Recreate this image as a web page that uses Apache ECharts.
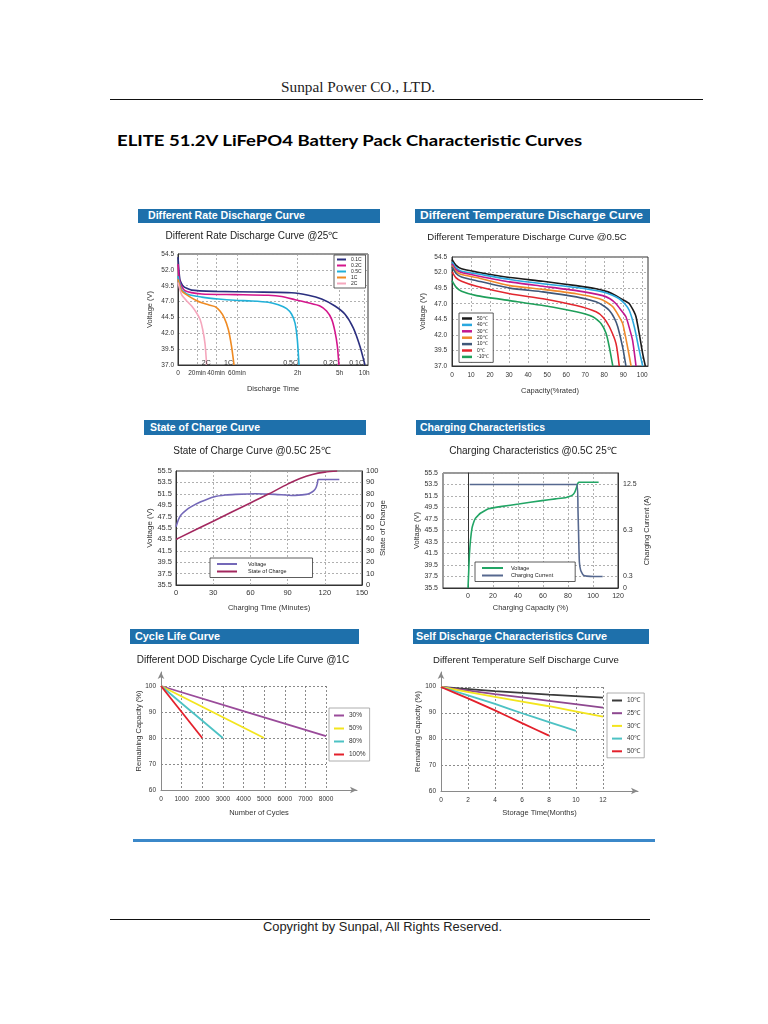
<!DOCTYPE html>
<html>
<head>
<meta charset="utf-8">
<title>ELITE 51.2V LiFePO4 Battery Pack Characteristic Curves</title>
<script src="https://cdn.jsdelivr.net/npm/echarts@6.0.0/dist/echarts.min.js"></script>
<style>
  html, body { margin:0; padding:0; background:#fff; }
  body { position:relative; width:768px; height:1024px; overflow:hidden; font-family:"Liberation Sans", Arial, sans-serif; }
  .t { position:absolute; white-space:nowrap; transform-origin:0 50%; }
  .rule { position:absolute; }
  .bar { position:absolute; background:#1e70ab; }
  .bar span { position:absolute; top:0; white-space:nowrap; color:#fff; font-weight:bold; font-size:10px; font-family:"Liberation Sans", Arial, sans-serif; transform-origin:0 50%; }
  .chart { position:absolute; }
</style>
</head>
<body>
<div class="t" data-fit="154" style="left:281px;top:80px;font-family:'Liberation Serif',serif;font-size:14px;line-height:16px;color:#222">Sunpal Power CO., LTD.</div>
<div class="rule" style="left:110px;top:99px;width:593px;height:1px;background:#111"></div>
<div class="t" data-fit="465" style="left:117px;top:130px;font-family:Lato,'Open Sans',sans-serif;font-weight:bold;font-size:16px;line-height:20px;color:#000">ELITE 51.2V LiFePO4 Battery Pack Characteristic Curves</div>

<div class="bar" style="left:138px;top:209px;width:242px;height:14px"><span data-fit="157" style="left:10px;line-height:14px">Different Rate Discharge Curve</span></div>
<div class="bar" style="left:415px;top:209px;width:235px;height:14px"><span data-fit="223" style="left:5px;line-height:14px">Different Temperature Discharge Curve</span></div>
<div class="bar" style="left:144px;top:420px;width:222px;height:15px"><span data-fit="110" style="left:6px;line-height:15px">State of Charge Curve</span></div>
<div class="bar" style="left:416px;top:420px;width:234px;height:15px"><span data-fit="125" style="left:4px;line-height:15px">Charging Characteristics</span></div>
<div class="bar" style="left:130px;top:629px;width:229px;height:15px"><span data-fit="85" style="left:5px;line-height:15px">Cycle Life Curve</span></div>
<div class="bar" style="left:413px;top:629px;width:236px;height:15px"><span data-fit="191" style="left:3px;line-height:15px">Self Discharge Characteristics Curve</span></div>

<div id="c1" class="chart" style="left:125px;top:225px;width:270px;height:175px"></div>
<div id="c2" class="chart" style="left:405px;top:225px;width:260px;height:175px"></div>
<div id="c3" class="chart" style="left:125px;top:437px;width:280px;height:180px"></div>
<div id="c4" class="chart" style="left:405px;top:437px;width:262px;height:180px"></div>
<div id="c5" class="chart" style="left:120px;top:646px;width:270px;height:180px"></div>
<div id="c6" class="chart" style="left:400px;top:646px;width:265px;height:180px"></div>

<div class="rule" style="left:133px;top:839px;width:522px;height:3px;background:#3b88c9"></div>
<div class="rule" style="left:110px;top:919px;width:540px;height:1px;background:#111"></div>
<div class="t" data-fit="239" style="left:263px;top:920px;font-family:'Liberation Sans',Arial,sans-serif;font-size:12px;line-height:14px;color:#222">Copyright by Sunpal, All Rights Reserved.</div>

<script>
// ---------------- DATA ----------------
// Chart 1: Different Rate Discharge Curve @25℃ (x = discharge-time position on the printed scale, y = V)
const c1Names = ['0.1C', '0.2C', '0.5C', '1C', '2C'];
const c1TickVals = [0, 10, 20, 31, 63, 85, 98];
const c1TickLabels = ['0', '20min', '40min', '60min', '2h', '5h', '10h'];
const c1_01C = [[0,54.0],[1,50.5],[2.8,49.4],[7.2,48.8],[20,48.6],[40,48.5],[59.8,48.4],[68.6,48.0],[75.6,47.4],[82.6,46.3],[87.9,45.0],[92.3,42.8],[95.8,39.9],[98.4,37.0]];
const c1_02C = [[0,52.9],[1,50.0],[3.7,48.7],[12.5,48.2],[30,48.1],[47.5,48.0],[54.6,47.8],[61.6,47.3],[68.6,46.8],[74.7,46.3],[78.2,45.5],[80.9,44.2],[82.6,42.3],[83.9,39.9],[84.7,37.0]];
const c1_05C = [[0,51.0],[1.9,48.9],[5.4,48.1],[12.5,47.7],[21.2,47.4],[30,47.2],[38.8,47.1],[47.5,46.9],[52.8,46.5],[57.2,45.9],[59.8,45.0],[61.6,43.6],[62.8,41.0],[63.7,37.0]];
const c1_1C  = [[0,50.5],[1.9,48.7],[5.4,47.9],[8.9,47.3],[12.5,46.8],[16,46.5],[19.5,46.2],[22.1,45.5],[24.4,44.4],[26.5,42.6],[28.2,39.9],[29.5,37.0]];
const c1_2C  = [[0,50.0],[1.9,48.1],[4.6,47.1],[7.2,46.3],[9.8,45.2],[11.6,44.2],[13,42.6],[14.2,40.4],[15.1,37.0]];

// Chart 2: Different Temperature Discharge Curve @0.5C (x = capacity %, y = V)
const c2Names = ['50℃', '40℃', '30℃', '20℃', '10℃', '0℃', '-10℃'];
const c2XTicks = [0, 10, 20, 30, 40, 50, 60, 70, 80, 90, 100];
const c2_50 = [[0,54.1],[2,53.2],[5,52.6],[12.9,52.1],[30.4,51.2],[47.8,50.6],[65.3,49.9],[75.7,49.4],[82,48.9],[86.2,48.3],[90,47.6],[93.2,47.0],[95.5,45.8],[96.7,44.9],[98.4,42.2],[100.2,39.0],[101.6,37.0]];
const c2_40 = [[0,53.7],[2,52.8],[5,52.2],[12.9,51.8],[30.4,50.9],[47.8,50.2],[65.3,49.6],[79.2,48.9],[84,48.4],[87.9,47.8],[91,46.9],[93.2,45.9],[95.8,43.3],[98.4,39.5],[100.2,37.0]];
const c2_30 = [[0,53.4],[2,52.5],[5,52.0],[12.9,51.5],[30.4,50.5],[47.8,49.8],[65.3,49.1],[79.2,48.3],[83,47.8],[86.2,47.0],[89,45.9],[91.4,44.9],[93.3,43.0],[94.9,41.1],[96.7,37.0]];
const c2_20 = [[0,53.1],[2,52.2],[5,51.7],[12.9,51.2],[30.4,49.9],[47.8,49.3],[65.3,48.6],[77.5,47.8],[81.5,47.2],[84.5,46.5],[87.5,45.1],[89.7,43.8],[92.3,40.0],[94.1,37.0]];
const c2_10 = [[0,52.9],[2,51.9],[5,51.3],[12.9,50.7],[30.4,49.5],[47.8,48.9],[65.3,48.1],[75.7,47.3],[80,46.6],[82.7,45.9],[85.3,44.7],[87.1,43.3],[89.7,40.0],[91.4,37.0]];
const c2_0  = [[0,52.1],[2,51.2],[5,50.6],[12.9,49.8],[30.4,48.6],[47.8,47.8],[65.3,46.7],[75.7,45.7],[79.5,44.8],[82.7,43.3],[86.2,40.6],[87.9,37.0]];
const c2_m10 = [[0,50.7],[2,49.7],[5,49.0],[12.9,48.3],[30.4,47.5],[47.8,46.7],[65.3,45.7],[74,44.9],[78.4,43.8],[81,42.2],[82.7,40.0],[84.5,37.0]];

// Chart 3: State of Charge Curve @0.5C 25℃ (x = minutes)
const c3Names = ['Voltage', 'State of Charge'];
const c3Voltage = [[0,45.7],[2,47.0],[4,47.8],[8,48.6],[12,49.2],[20,50.1],[31,51.0],[40,51.3],[48,51.4],[64,51.5],[80,51.4],[94,51.2],[105,51.4],[108,51.6],[111,52.0],[113,52.6],[114.2,53.5],[114.5,54.0],[131.7,54.0]];
const c3SOC = [[0,40],[30,56],[60,72],[75,80],[90,88.5],[100,93.5],[110,97],[120,99],[130,100]];

// Chart 4: Charging Characteristics @0.5C 25℃ (x = charging capacity %)
const c4Names = ['Voltage', 'Charging Current'];
const c4Voltage = [[0,35.5],[0.5,38.0],[1.1,41.2],[2,43.8],[3.2,45.9],[4.5,46.9],[5.9,47.6],[8,48.1],[9.9,48.5],[13,48.9],[16.5,49.3],[27.2,49.7],[40.5,50.1],[59.2,50.7],[70,51.0],[77.9,51.2],[81,51.4],[83.2,51.6],[85,52.0],[85.9,52.4],[87,53.1],[87.7,53.6],[88.5,53.9],[104.5,53.9]];
const c4CurrentA = [[1.3,12.5],[87.2,12.5],[88,9.0],[88.6,5.0],[89.1,2.2],[90,1.2],[91,0.8],[92.5,0.45],[95,0.35],[100.5,0.3],[107.7,0.3]];
const c4CurTickA = [0, 0.3, 6.3, 12.5];          // labels printed on the right axis
const c4CurTickRow = [35.5, 37.5, 45.5, 53.5];   // voltage rows they are printed against

// Chart 5: Different DOD Discharge Cycle Life Curve @1C
const c5Names = ['30%', '50%', '80%', '100%'];
const c5XTicks = [0, 1000, 2000, 3000, 4000, 5000, 6000, 7000, 8000];
const c5YTicks = [60, 70, 80, 90, 100];
const c5_30 = [[0,100],[4000,90.3],[8000,80.7]];
const c5_50 = [[0,100],[5000,80]];
const c5_80 = [[0,100],[3000,80]];
const c5_100 = [[0,100],[2000,80]];

// Chart 6: Different Temperature Self Discharge Curve (x = months)
const c6Names = ['10℃', '25℃', '30℃', '40℃', '50℃'];
const c6XTicks = [0, 2, 4, 6, 8, 10, 12];
const c6YTicks = [60, 70, 80, 90, 100];
const c6_10 = [[0,100],[4,98.4],[8,97.1],[12,95.9]];
const c6_25 = [[0,100],[4,97.3],[8,94.7],[12,92.1]];
const c6_30 = [[0,100],[4,96.2],[8,92.6],[12,88.6]];
const c6_40 = [[0,100],[2,96.8],[4,93.5],[6,89.9],[8,86.5],[10,83.1]];
const c6_50 = [[0,100],[2,95.6],[4,91.0],[6,86.1],[8,81.3]];

// ---------------- HELPERS ----------------
const F = '"Liberation Sans", Arial, sans-serif';
function gridAt(d, x0, y0, x1, y1, extra) {
  return Object.assign({ left: x0 - d.x, top: y0 - d.y, width: x1 - x0, height: y1 - y0, containLabel: false, outerBoundsMode: 'none' }, extra || {});
}
function framed(g) { return Object.assign(g, { show: true, borderColor: '#333', borderWidth: 1, backgroundColor: 'transparent' }); }
function dashed(c, w) { return { show: true, lineStyle: { color: c || '#9c9c9c', type: [2, 2], width: w || 0.8 } }; }
function lbl(size, extra) { return Object.assign({ fontFamily: F, fontSize: size, color: '#333' }, extra || {}); }
function nameStyle(size) { return { fontFamily: F, fontSize: size, color: '#333' }; }
function axLine(c) { return { show: true, lineStyle: { color: c || '#333', width: 1 } }; }
function line(name, data, color, extra) {
  return Object.assign({ type: 'line', name: name, data: data, showSymbol: false, symbol: 'none', smooth: 0.2,
    lineStyle: { color: color, width: 1.6 }, itemStyle: { color: color }, emphasis: { disabled: true }, silent: true }, extra || {});
}
function legendBox(d, x, y, extra) {
  return Object.assign({ orient: 'vertical', left: x - d.x, top: y - d.y, icon: 'rect', itemWidth: 10, itemHeight: 2, itemGap: 1,
    padding: [2, 3], borderColor: '#333', borderWidth: 0.8, backgroundColor: '#fff', selectedMode: false,
    textStyle: { fontFamily: F, fontSize: 5, color: '#222' } }, extra || {});
}
function sub(d, cx, cy, text, size) {
  return { type: 'text', x: cx - d.x, y: cy - d.y, silent: true,
    style: { text: text, font: size + 'px ' + F, fill: '#222', align: 'center', verticalAlign: 'middle' } };
}
function endLbl(text, dx) {
  return { show: true, formatter: text, align: 'right', verticalAlign: 'middle', distance: 0, offset: [dx || -1, -1.5], fontFamily: F, fontSize: 7, color: '#333' };
}
function near(v, arr) { for (let i = 0; i < arr.length; i++) if (Math.abs(v - arr[i]) < 1e-6) return i; return -1; }
function ampToRow(a) {
  for (let i = 1; i < c4CurTickA.length; i++) {
    if (a <= c4CurTickA[i] || i === c4CurTickA.length - 1) {
      const t = (a - c4CurTickA[i - 1]) / (c4CurTickA[i] - c4CurTickA[i - 1]);
      return c4CurTickRow[i - 1] + t * (c4CurTickRow[i] - c4CurTickRow[i - 1]);
    }
  }
}
function init(id) { return echarts.init(document.getElementById(id), null, { renderer: 'canvas' }); }
const NM = { nameLocation: 'middle', nameMoveOverlap: false };

// ---------------- CHART 1 ----------------
const d1 = { x: 125, y: 225 };
const c1Colors = ['#2b2f7f', '#d4168c', '#22b1d9', '#ef8a22', '#f5a7bd'];
const c1Data = [c1_01C, c1_02C, c1_05C, c1_1C, c1_2C];
init('c1').setOption({
  animation: false,
  graphic: [sub(d1, 252, 236, 'Different Rate Discharge Curve @25℃', 10)],
  grid: framed(gridAt(d1, 178, 254, 368, 365)),
  legend: legendBox(d1, 334, 255, { data: c1Names, itemWidth: 9, itemGap: 1, padding: [2, 4, 2, 3] }),
  xAxis: Object.assign({ type: 'value', min: 0, max: 100, name: 'Discharge Time', nameGap: 20, nameTextStyle: nameStyle(7.5),
    axisLine: axLine(), axisTick: { show: false, customValues: c1TickVals },
    axisLabel: lbl(6.5, { customValues: c1TickVals, margin: 5, formatter: v => { const i = near(v, c1TickVals); return i < 0 ? '' : c1TickLabels[i]; } }),
    splitLine: dashed() }, NM),
  yAxis: Object.assign({ type: 'value', min: 37, max: 54.5, interval: 2.5, name: 'Voltage (V)', nameGap: 24, nameRotate: 90, nameTextStyle: nameStyle(7.5),
    axisLine: axLine(), axisTick: { show: false }, axisLabel: lbl(6.5, { margin: 4, formatter: v => v.toFixed(1) }), splitLine: dashed() }, NM),
  series: c1Names.map((n, i) => line(n, c1Data[i], c1Colors[i], { endLabel: endLbl(n, i === 4 ? 4 : -1) }))
});

// ---------------- CHART 2 ----------------
const d2 = { x: 405, y: 225 };
const c2Colors = ['#1a1a1a', '#2aa8df', '#c2168f', '#f0892a', '#3f5778', '#e2272f', '#1f9f5a'];
const c2Data = [c2_50, c2_40, c2_30, c2_20, c2_10, c2_0, c2_m10];
init('c2').setOption({
  animation: false,
  graphic: [sub(d2, 527, 237, 'Different Temperature Discharge Curve @0.5C', 9.6)],
  grid: framed(gridAt(d2, 452, 257, 648, 366)),
  legend: legendBox(d2, 459, 313, { data: c2Names, itemWidth: 10, itemHeight: 2.5, itemGap: 1.4, padding: [3, 4, 3, 3] }),
  xAxis: Object.assign({ type: 'value', min: 0, max: 103, name: 'Capacity(%rated)', nameGap: 21, nameTextStyle: nameStyle(7.5),
    axisLine: axLine(), axisTick: { show: false, customValues: c2XTicks },
    axisLabel: lbl(6.5, { customValues: c2XTicks, margin: 6 }), splitLine: dashed() }, NM),
  yAxis: Object.assign({ type: 'value', min: 37, max: 54.5, interval: 2.5, name: 'Voltage (V)', nameGap: 25, nameRotate: 90, nameTextStyle: nameStyle(7.5),
    axisLine: axLine(), axisTick: { show: false }, axisLabel: lbl(6.5, { margin: 5, formatter: v => v.toFixed(1) }), splitLine: dashed() }, NM),
  series: c2Names.map((n, i) => line(n, c2Data[i], c2Colors[i]))
});

// ---------------- CHART 3 ----------------
const d3 = { x: 125, y: 437 };
const c3Colors = ['#7468b8', '#a3285f'];
init('c3').setOption({
  animation: false,
  graphic: [sub(d3, 252, 451, 'State of Charge Curve @0.5C 25℃', 10)],
  grid: framed(gridAt(d3, 176, 471, 362, 585)),
  legend: legendBox(d3, 210, 558, { data: c3Names, itemWidth: 20, itemHeight: 2, itemGap: 1.5, padding: [3, 26, 3, 7],
    textStyle: { fontFamily: F, fontSize: 5.5, color: '#222', padding: [0, 0, 0, 6] } }),
  xAxis: Object.assign({ type: 'value', min: 0, max: 150, interval: 30, name: 'Charging Time (Minutes)', nameGap: 19, nameTextStyle: nameStyle(7.5),
    axisLine: axLine(), axisTick: { show: false }, axisLabel: lbl(7.5, { margin: 4 }), splitLine: dashed() }, NM),
  yAxis: [
    Object.assign({ type: 'value', min: 35.5, max: 55.5, interval: 2, name: 'Voltage (V)', nameGap: 22, nameRotate: 90, nameTextStyle: nameStyle(8),
      axisLine: axLine(), axisTick: { show: false }, axisLabel: lbl(7.5, { margin: 4, formatter: v => v.toFixed(1) }), splitLine: dashed() }, NM),
    Object.assign({ type: 'value', position: 'right', min: 0, max: 100, interval: 10, name: 'State of Charge', nameGap: 17, nameRotate: 90, nameTextStyle: nameStyle(8),
      axisLine: axLine(), axisTick: { show: false }, axisLabel: lbl(7.5, { margin: 4 }), splitLine: { show: false } }, NM)
  ],
  series: [
    line(c3Names[0], c3Voltage, c3Colors[0], { yAxisIndex: 0 }),
    line(c3Names[1], c3SOC, c3Colors[1], { yAxisIndex: 1, smooth: 0.3 })
  ]
});

// ---------------- CHART 4 ----------------
const d4 = { x: 405, y: 437 };
const c4Colors = ['#22a565', '#56688f'];
init('c4').setOption({
  animation: false,
  graphic: [sub(d4, 533, 451, 'Charging Characteristics @0.5C 25℃', 10)],
  grid: framed(gridAt(d4, 443, 473, 618, 588)),
  legend: legendBox(d4, 475, 562, { data: c4Names, itemWidth: 21, itemHeight: 2, itemGap: 1.5, padding: [3, 22, 3, 7],
    textStyle: { fontFamily: F, fontSize: 5.5, color: '#222', padding: [0, 0, 0, 3] } }),
  xAxis: Object.assign({ type: 'value', min: -20, max: 120, interval: 20, name: 'Charging Capacity (%)', nameGap: 16, nameTextStyle: nameStyle(7.5),
    axisLine: axLine(), axisTick: { show: false }, axisLabel: lbl(7, { margin: 5, showMinLabel: false }), splitLine: dashed() }, NM),
  yAxis: [
    Object.assign({ type: 'value', min: 35.5, max: 55.5, interval: 2, name: 'Voltage (V)', nameGap: 22, nameRotate: 90, nameTextStyle: nameStyle(7.5),
      axisLine: axLine(), axisTick: { show: false }, axisLabel: lbl(7, { margin: 5, formatter: v => v.toFixed(1) }), splitLine: dashed() }, NM),
    Object.assign({ type: 'value', position: 'right', min: 35.5, max: 55.5, interval: 2, name: 'Charging Current (A)', nameGap: 25, nameRotate: 90, nameTextStyle: nameStyle(7.5),
      axisLine: axLine(), axisTick: { show: false },
      axisLabel: lbl(7, { margin: 5, formatter: v => { const i = near(v, c4CurTickRow); return i < 0 ? '' : String(c4CurTickA[i]); } }),
      splitLine: { show: false } }, NM)
  ],
  series: [
    line(c4Names[0], c4Voltage, c4Colors[0], { yAxisIndex: 0, smooth: 0.15 }),
    line(c4Names[1], c4CurrentA.map(p => [p[0], ampToRow(p[1])]), c4Colors[1], { yAxisIndex: 1, smooth: 0.15 })
  ]
});

// ---------------- CHART 5 ----------------
const d5 = { x: 120, y: 646 };
const c5Colors = ['#9a4b9a', '#f3e51d', '#4dc2c4', '#e3202b'];
const c5Data = [c5_30, c5_50, c5_80, c5_100];
function arrowAxes(d, gA, gB, xmaxA, xmaxB, xint, ymaxA, xTicks, yTicks, xName, yName, xGap, yGap) {
  return {
    grid: [gridAt(d, gA[0], gA[1], gA[2], gA[3]), gridAt(d, gB[0], gB[1], gB[2], gB[3])],
    xAxis: [
      Object.assign({ type: 'value', gridIndex: 0, min: 0, max: xmaxA, name: xName, nameGap: xGap, nameTextStyle: nameStyle(7.5),
        axisLine: { show: true, symbol: ['none', 'arrow'], symbolSize: [5, 7], lineStyle: { color: '#8a8a8a', width: 1 } },
        axisTick: { show: false }, axisLabel: lbl(6.5, { customValues: xTicks, margin: 6, formatter: v => String(v) }), splitLine: { show: false } }, NM),
      { type: 'value', gridIndex: 1, min: 0, max: xmaxB, interval: xint, axisLine: { show: false }, axisTick: { show: false },
        axisLabel: { show: false }, splitLine: dashed('#6e6e6e', 0.8) }
    ],
    yAxis: [
      Object.assign({ type: 'value', gridIndex: 0, min: 60, max: ymaxA, name: yName, nameGap: yGap, nameRotate: 90, nameTextStyle: nameStyle(7.5),
        axisLine: { show: true, symbol: ['none', 'arrow'], symbolSize: [5, 7], lineStyle: { color: '#8a8a8a', width: 1 } },
        axisTick: { show: false }, axisLabel: lbl(6.5, { customValues: yTicks, margin: 5, formatter: v => String(v) }), splitLine: { show: false } }, NM),
      { type: 'value', gridIndex: 1, min: 60, max: 100, interval: 10, axisLine: { show: false }, axisTick: { show: false },
        axisLabel: { show: false }, splitLine: dashed('#6e6e6e', 0.8) }
    ]
  };
}
init('c5').setOption(Object.assign({
  animation: false,
  graphic: [sub(d5, 243, 660, 'Different DOD Discharge Cycle Life Curve @1C', 10)],
  legend: legendBox(d5, 329, 708, { data: c5Names, itemWidth: 10, itemHeight: 2, itemGap: 6, padding: [4, 4, 3, 5], borderColor: '#9a9a9a',
    textStyle: { fontFamily: F, fontSize: 6.5, color: '#333' } }),
  series: c5Names.map((n, i) => line(n, c5Data[i], c5Colors[i], { xAxisIndex: 1, yAxisIndex: 1, smooth: false, lineStyle: { color: c5Colors[i], width: 1.8 } }))
}, arrowAxes(d5, [161, 672, 357, 790], [161, 686, 326, 790], 9500, 8000, 1000, 105.5, c5XTicks, c5YTicks, 'Number of Cycles', 'Remaining Capacity (%)', 19, 18)));

// ---------------- CHART 6 ----------------
const d6 = { x: 400, y: 646 };
const c6Colors = ['#3b3b3b', '#8e4890', '#f3e51d', '#4dc2c4', '#e3202b'];
const c6Data = [c6_10, c6_25, c6_30, c6_40, c6_50];
init('c6').setOption(Object.assign({
  animation: false,
  graphic: [sub(d6, 526, 660, 'Different Temperature Self Discharge Curve', 9.6)],
  legend: legendBox(d6, 607, 693, { data: c6Names, itemWidth: 10, itemHeight: 2, itemGap: 5.7, padding: [4, 4, 3, 5], borderColor: '#9a9a9a',
    textStyle: { fontFamily: F, fontSize: 6.5, color: '#333' } }),
  series: c6Names.map((n, i) => line(n, c6Data[i], c6Colors[i], { xAxisIndex: 1, yAxisIndex: 1, smooth: 0.15, lineStyle: { color: c6Colors[i], width: 1.8 } }))
}, arrowAxes(d6, [441, 672, 638, 791], [441, 687, 603, 791], 14.6, 12, 2, 105.5, c6XTicks, c6YTicks, 'Storage Time(Months)', 'Remaining Capacity (%)', 18, 19)));

// ---------------- fit page texts to their printed widths ----------------
document.querySelectorAll('[data-fit]').forEach(el => {
  const w = el.getBoundingClientRect().width;
  const t = +el.dataset.fit;
  if (w > 0) el.style.transform = 'scaleX(' + (t / w).toFixed(4) + ')';
});
</script>
</body>
</html>
